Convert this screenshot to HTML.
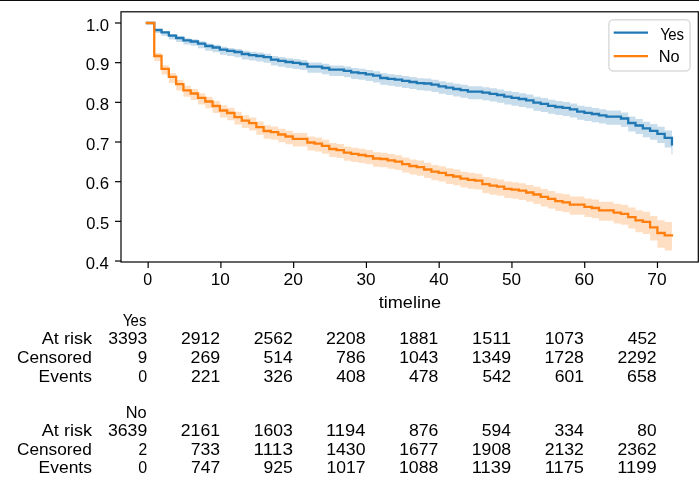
<!DOCTYPE html><html><head><meta charset="utf-8"><style>html,body{margin:0;padding:0;background:#fff;overflow:hidden}svg{display:block;will-change:transform}</style></head><body><svg width="699" height="502" viewBox="0 0 699 502">
<rect width="699" height="502" fill="#fff"/>
<rect x="0" y="0" width="699" height="1" fill="#0b0c10"/>
<path d="M146.95,23.80 L154.24,23.80 L154.24,29.07 L161.53,29.07 L161.53,31.06 L168.83,31.06 L168.83,34.08 L176.12,34.08 L176.12,36.14 L183.41,36.14 L183.41,38.23 L190.70,38.23 L190.70,39.31 L197.99,39.31 L197.99,41.31 L205.29,41.31 L205.29,43.42 L212.58,43.42 L212.58,44.79 L219.87,44.79 L219.87,46.82 L227.16,46.82 L227.16,47.92 L234.45,47.92 L234.45,48.93 L241.75,48.93 L241.75,50.77 L249.04,50.77 L249.04,51.78 L256.33,51.78 L256.33,52.61 L263.62,52.61 L263.62,53.73 L270.91,53.73 L270.91,56.07 L278.21,56.07 L278.21,57.10 L285.50,57.10 L285.50,58.23 L292.79,58.23 L292.79,59.07 L300.08,59.07 L300.08,60.10 L307.37,60.10 L307.37,62.55 L314.67,62.55 L314.67,62.55 L321.96,62.55 L321.96,63.87 L329.25,63.87 L329.25,65.47 L336.54,65.47 L336.54,65.47 L343.83,65.47 L343.83,66.60 L351.13,66.60 L351.13,68.02 L358.42,68.02 L358.42,68.77 L365.71,68.77 L365.71,69.90 L373.00,69.90 L373.00,71.13 L380.29,71.13 L380.29,73.30 L387.59,73.30 L387.59,74.15 L394.88,74.15 L394.88,74.91 L402.17,74.91 L402.17,76.04 L409.46,76.04 L409.46,77.08 L416.75,77.08 L416.75,78.22 L424.05,78.22 L424.05,78.51 L431.34,78.51 L431.34,79.64 L438.63,79.64 L438.63,81.25 L445.92,81.25 L445.92,82.38 L453.21,82.38 L453.21,83.71 L460.51,83.71 L460.51,84.84 L467.80,84.84 L467.80,86.16 L475.09,86.16 L475.09,86.17 L482.38,86.17 L482.38,87.21 L489.67,87.21 L489.67,88.34 L496.97,88.34 L496.97,89.38 L504.26,89.38 L504.26,90.98 L511.55,90.98 L511.55,92.02 L518.84,92.02 L518.84,93.21 L526.13,93.21 L526.13,94.58 L533.43,94.58 L533.43,96.81 L540.72,96.81 L540.72,98.00 L548.01,98.00 L548.01,99.85 L555.30,99.85 L555.30,101.04 L562.59,101.04 L562.59,101.95 L569.89,101.95 L569.89,103.43 L577.18,103.43 L577.18,105.65 L584.47,105.65 L584.47,106.75 L591.76,106.75 L591.76,107.94 L599.05,107.94 L599.05,109.31 L606.35,109.31 L606.35,110.50 L613.64,110.50 L613.64,110.57 L620.93,110.57 L620.93,112.39 L628.22,112.39 L628.22,116.58 L635.51,116.58 L635.51,118.94 L642.81,118.94 L642.81,121.66 L650.10,121.66 L650.10,124.00 L657.39,124.00 L657.39,126.77 L664.68,126.77 L664.68,130.48 L671.97,130.48 L671.97,136.53 L671.97,136.53 L671.97,154.38 L671.97,154.38 L671.97,147.41 L664.68,147.41 L664.68,143.10 L657.39,143.10 L657.39,139.87 L650.10,139.87 L650.10,137.20 L642.81,137.20 L642.81,134.11 L635.51,134.11 L635.51,131.47 L628.22,131.47 L628.22,126.66 L620.93,126.66 L620.93,124.68 L613.64,124.68 L613.64,124.76 L606.35,124.76 L606.35,123.55 L599.05,123.55 L599.05,122.13 L591.76,122.13 L591.76,120.92 L584.47,120.92 L584.47,119.83 L577.18,119.83 L577.18,117.46 L569.89,117.46 L569.89,115.94 L562.59,115.94 L562.59,115.06 L555.30,115.06 L555.30,113.86 L548.01,113.86 L548.01,111.92 L540.72,111.92 L540.72,110.72 L533.43,110.72 L533.43,108.35 L526.13,108.35 L526.13,106.94 L518.84,106.94 L518.84,105.74 L511.55,105.74 L511.55,104.57 L504.26,104.57 L504.26,102.77 L496.97,102.77 L496.97,101.61 L489.67,101.61 L489.67,100.34 L482.38,100.34 L482.38,99.18 L475.09,99.18 L475.09,99.19 L467.80,99.19 L467.80,97.71 L460.51,97.71 L460.51,96.45 L453.21,96.45 L453.21,94.97 L445.92,94.97 L445.92,93.70 L438.63,93.70 L438.63,91.91 L431.34,91.91 L431.34,90.65 L424.05,90.65 L424.05,90.33 L416.75,90.33 L416.75,89.07 L409.46,89.07 L409.46,87.91 L402.17,87.91 L402.17,86.64 L394.88,86.64 L394.88,85.80 L387.59,85.80 L387.59,84.86 L380.29,84.86 L380.29,82.43 L373.00,82.43 L373.00,81.05 L365.71,81.05 L365.71,79.79 L358.42,79.79 L358.42,78.94 L351.13,78.94 L351.13,77.36 L343.83,77.36 L343.83,76.09 L336.54,76.09 L336.54,76.09 L329.25,76.09 L329.25,74.30 L321.96,74.30 L321.96,72.81 L314.67,72.81 L314.67,72.82 L307.37,72.82 L307.37,70.06 L300.08,70.06 L300.08,68.90 L292.79,68.90 L292.79,67.94 L285.50,67.94 L285.50,66.67 L278.21,66.67 L278.21,65.51 L270.91,65.51 L270.91,62.85 L263.62,62.85 L263.62,61.57 L256.33,61.57 L256.33,60.59 L249.04,60.59 L249.04,59.40 L241.75,59.40 L241.75,57.24 L234.45,57.24 L234.45,56.05 L227.16,56.05 L227.16,54.75 L219.87,54.75 L219.87,52.37 L212.58,52.37 L212.58,50.74 L205.29,50.74 L205.29,48.25 L197.99,48.25 L197.99,45.85 L190.70,45.85 L190.70,44.53 L183.41,44.53 L183.41,42.01 L176.12,42.01 L176.12,39.48 L168.83,39.48 L168.83,35.70 L161.53,35.70 L161.53,33.10 L154.24,33.10 L154.24,23.80 L146.95,23.80Z" fill="#1f77b4" fill-opacity="0.25"/>
<path d="M146.95,23.80 L154.24,23.80 L154.24,52.96 L161.53,52.96 L161.53,65.14 L168.83,65.14 L168.83,72.90 L176.12,72.90 L176.12,79.92 L183.41,79.92 L183.41,85.80 L190.70,85.80 L190.70,88.90 L197.99,88.90 L197.99,93.16 L205.29,93.16 L205.29,96.65 L212.58,96.65 L212.58,101.00 L219.87,101.00 L219.87,105.35 L227.16,105.35 L227.16,107.78 L234.45,107.78 L234.45,111.85 L241.75,111.85 L241.75,115.16 L249.04,115.16 L249.04,117.60 L256.33,117.60 L256.33,121.58 L263.62,121.58 L263.62,125.28 L270.91,125.28 L270.91,126.46 L278.21,126.46 L278.21,128.71 L285.50,128.71 L285.50,130.67 L292.79,130.67 L292.79,132.91 L300.08,132.91 L300.08,132.94 L307.37,132.94 L307.37,136.53 L314.67,136.53 L314.67,137.62 L321.96,137.62 L321.96,139.86 L329.25,139.86 L329.25,142.88 L336.54,142.88 L336.54,143.97 L343.83,143.97 L343.83,146.51 L351.13,146.51 L351.13,147.69 L358.42,147.69 L358.42,148.77 L365.71,148.77 L365.71,149.95 L373.00,149.95 L373.00,152.18 L380.29,152.18 L380.29,152.68 L387.59,152.68 L387.59,154.04 L394.88,154.04 L394.88,155.30 L402.17,155.30 L402.17,157.62 L409.46,157.62 L409.46,159.46 L416.75,159.46 L416.75,160.62 L424.05,160.62 L424.05,162.84 L431.34,162.84 L431.34,164.97 L438.63,164.97 L438.63,166.13 L445.92,166.13 L445.92,168.35 L453.21,168.35 L453.21,169.61 L460.51,169.61 L460.51,171.63 L467.80,171.63 L467.80,172.79 L475.09,172.79 L475.09,173.67 L482.38,173.67 L482.38,177.02 L489.67,177.02 L489.67,178.36 L496.97,178.36 L496.97,179.43 L504.26,179.43 L504.26,181.43 L511.55,181.43 L511.55,182.21 L518.84,182.21 L518.84,183.26 L526.13,183.26 L526.13,184.98 L533.43,184.98 L533.43,186.87 L540.72,186.87 L540.72,189.05 L548.01,189.05 L548.01,191.03 L555.30,191.03 L555.30,193.20 L562.59,193.20 L562.59,194.24 L569.89,194.24 L569.89,196.40 L577.18,196.40 L577.18,196.41 L584.47,196.41 L584.47,198.54 L591.76,198.54 L591.76,199.56 L599.05,199.56 L599.05,201.65 L606.35,201.65 L606.35,201.67 L613.64,201.67 L613.64,203.80 L620.93,203.80 L620.93,204.78 L628.22,204.78 L628.22,207.61 L635.51,207.61 L635.51,210.32 L642.81,210.32 L642.81,211.65 L650.10,211.65 L650.10,215.90 L657.39,215.90 L657.39,220.21 L664.68,220.21 L664.68,222.12 L671.97,222.12 L671.97,222.15 L671.97,222.15 L671.97,250.58 L671.97,250.58 L671.97,250.61 L664.68,250.61 L664.68,247.73 L657.39,247.73 L657.39,240.60 L650.10,240.60 L650.10,234.03 L642.81,234.03 L642.81,232.15 L635.51,232.15 L635.51,228.45 L628.22,228.45 L628.22,224.67 L620.93,224.67 L620.93,223.45 L613.64,223.45 L613.64,220.78 L606.35,220.78 L606.35,220.80 L599.05,220.80 L599.05,218.29 L591.76,218.29 L591.76,217.11 L584.47,217.11 L584.47,214.63 L577.18,214.63 L577.18,214.65 L569.89,214.65 L569.89,212.20 L562.59,212.20 L562.59,211.05 L555.30,211.05 L555.30,208.61 L548.01,208.61 L548.01,206.40 L540.72,206.40 L540.72,203.98 L533.43,203.98 L533.43,201.87 L526.13,201.87 L526.13,199.99 L518.84,199.99 L518.84,198.84 L511.55,198.84 L511.55,198.02 L504.26,198.02 L504.26,195.83 L496.97,195.83 L496.97,194.69 L489.67,194.69 L489.67,193.24 L482.38,193.24 L482.38,189.59 L475.09,189.59 L475.09,188.67 L467.80,188.67 L467.80,187.43 L460.51,187.43 L460.51,185.25 L453.21,185.25 L453.21,183.91 L445.92,183.91 L445.92,181.53 L438.63,181.53 L438.63,180.30 L431.34,180.30 L431.34,178.02 L424.05,178.02 L424.05,175.65 L416.75,175.65 L416.75,174.41 L409.46,174.41 L409.46,172.45 L402.17,172.45 L402.17,169.98 L394.88,169.98 L394.88,168.64 L387.59,168.64 L387.59,167.20 L380.29,167.20 L380.29,166.70 L373.00,166.70 L373.00,164.33 L365.71,164.33 L365.71,163.11 L358.42,163.11 L358.42,162.00 L351.13,162.00 L351.13,160.79 L343.83,160.79 L343.83,158.12 L336.54,158.12 L336.54,157.01 L329.25,157.01 L329.25,153.84 L321.96,153.84 L321.96,151.49 L314.67,151.49 L314.67,150.38 L307.37,150.38 L307.37,146.58 L300.08,146.58 L300.08,146.60 L292.79,146.60 L292.79,144.25 L285.50,144.25 L285.50,142.21 L278.21,142.21 L278.21,139.86 L270.91,139.86 L270.91,138.65 L263.62,138.65 L263.62,134.76 L256.33,134.76 L256.33,130.55 L249.04,130.55 L249.04,127.99 L241.75,127.99 L241.75,124.50 L234.45,124.50 L234.45,120.18 L227.16,120.18 L227.16,117.61 L219.87,117.61 L219.87,112.97 L212.58,112.97 L212.58,108.33 L205.29,108.33 L205.29,104.62 L197.99,104.62 L197.99,100.09 L190.70,100.09 L190.70,96.80 L183.41,96.80 L183.41,90.49 L176.12,90.49 L176.12,82.93 L168.83,82.93 L168.83,74.51 L161.53,74.51 L161.53,61.12 L154.24,61.12 L154.24,23.80 L146.95,23.80Z" fill="#ff7f0e" fill-opacity="0.25"/>
<rect x="671.37" y="136.53" width="1.2" height="17.85" fill="#1f77b4" fill-opacity="0.25"/>
<path d="M146.95,23.00 L154.24,23.00 L154.24,30.00 L161.53,30.00 L161.53,32.30 L168.83,32.30 L168.83,35.70 L176.12,35.70 L176.12,38.00 L183.41,38.00 L183.41,40.30 L190.70,40.30 L190.70,41.50 L197.99,41.50 L197.99,43.70 L205.29,43.70 L205.29,46.00 L212.58,46.00 L212.58,47.50 L219.87,47.50 L219.87,49.70 L227.16,49.70 L227.16,50.90 L234.45,50.90 L234.45,52.00 L241.75,52.00 L241.75,54.00 L249.04,54.00 L249.04,55.10 L256.33,55.10 L256.33,56.00 L263.62,56.00 L263.62,57.20 L270.91,57.20 L270.91,59.70 L278.21,59.70 L278.21,60.80 L285.50,60.80 L285.50,62.00 L292.79,62.00 L292.79,62.90 L300.08,62.90 L300.08,64.00 L307.37,64.00 L307.37,66.60 L314.67,66.60 L314.67,66.60 L321.96,66.60 L321.96,68.00 L329.25,68.00 L329.25,69.70 L336.54,69.70 L336.54,69.70 L343.83,69.70 L343.83,70.90 L351.13,70.90 L351.13,72.40 L358.42,72.40 L358.42,73.20 L365.71,73.20 L365.71,74.40 L373.00,74.40 L373.00,75.70 L380.29,75.70 L380.29,78.00 L387.59,78.00 L387.59,78.90 L394.88,78.90 L394.88,79.70 L402.17,79.70 L402.17,80.90 L409.46,80.90 L409.46,82.00 L416.75,82.00 L416.75,83.20 L424.05,83.20 L424.05,83.50 L431.34,83.50 L431.34,84.70 L438.63,84.70 L438.63,86.40 L445.92,86.40 L445.92,87.60 L453.21,87.60 L453.21,89.00 L460.51,89.00 L460.51,90.20 L467.80,90.20 L467.80,91.60 L475.09,91.60 L475.09,91.60 L482.38,91.60 L482.38,92.70 L489.67,92.70 L489.67,93.90 L496.97,93.90 L496.97,95.00 L504.26,95.00 L504.26,96.70 L511.55,96.70 L511.55,97.80 L518.84,97.80 L518.84,99.00 L526.13,99.00 L526.13,100.40 L533.43,100.40 L533.43,102.70 L540.72,102.70 L540.72,103.90 L548.01,103.90 L548.01,105.80 L555.30,105.80 L555.30,107.00 L562.59,107.00 L562.59,107.90 L569.89,107.90 L569.89,109.40 L577.18,109.40 L577.18,111.70 L584.47,111.70 L584.47,112.80 L591.76,112.80 L591.76,114.00 L599.05,114.00 L599.05,115.40 L606.35,115.40 L606.35,116.60 L613.64,116.60 L613.64,116.60 L620.93,116.60 L620.93,118.50 L628.22,118.50 L628.22,123.00 L635.51,123.00 L635.51,125.50 L642.81,125.50 L642.81,128.40 L650.10,128.40 L650.10,130.90 L657.39,130.90 L657.39,133.90 L664.68,133.90 L664.68,137.90 L671.97,137.90 L671.97,144.40" fill="none" stroke="#1f77b4" stroke-width="2.3" stroke-linejoin="miter" stroke-linecap="square"/>
<path d="M146.95,23.00 L154.24,23.00 L154.24,56.00 L161.53,56.00 L161.53,68.80 L168.83,68.80 L168.83,76.90 L176.12,76.90 L176.12,84.20 L183.41,84.20 L183.41,90.30 L190.70,90.30 L190.70,93.50 L197.99,93.50 L197.99,97.90 L205.29,97.90 L205.29,101.50 L212.58,101.50 L212.58,106.00 L219.87,106.00 L219.87,110.50 L227.16,110.50 L227.16,113.00 L234.45,113.00 L234.45,117.20 L241.75,117.20 L241.75,120.60 L249.04,120.60 L249.04,123.10 L256.33,123.10 L256.33,127.20 L263.62,127.20 L263.62,131.00 L270.91,131.00 L270.91,132.20 L278.21,132.20 L278.21,134.50 L285.50,134.50 L285.50,136.50 L292.79,136.50 L292.79,138.80 L300.08,138.80 L300.08,138.80 L307.37,138.80 L307.37,142.50 L314.67,142.50 L314.67,143.60 L321.96,143.60 L321.96,145.90 L329.25,145.90 L329.25,149.00 L336.54,149.00 L336.54,150.10 L343.83,150.10 L343.83,152.70 L351.13,152.70 L351.13,153.90 L358.42,153.90 L358.42,155.00 L365.71,155.00 L365.71,156.20 L373.00,156.20 L373.00,158.50 L380.29,158.50 L380.29,159.00 L387.59,159.00 L387.59,160.40 L394.88,160.40 L394.88,161.70 L402.17,161.70 L402.17,164.10 L409.46,164.10 L409.46,166.00 L416.75,166.00 L416.75,167.20 L424.05,167.20 L424.05,169.50 L431.34,169.50 L431.34,171.70 L438.63,171.70 L438.63,172.90 L445.92,172.90 L445.92,175.20 L453.21,175.20 L453.21,176.50 L460.51,176.50 L460.51,178.60 L467.80,178.60 L467.80,179.80 L475.09,179.80 L475.09,180.70 L482.38,180.70 L482.38,184.20 L489.67,184.20 L489.67,185.60 L496.97,185.60 L496.97,186.70 L504.26,186.70 L504.26,188.80 L511.55,188.80 L511.55,189.60 L518.84,189.60 L518.84,190.70 L526.13,190.70 L526.13,192.50 L533.43,192.50 L533.43,194.50 L540.72,194.50 L540.72,196.80 L548.01,196.80 L548.01,198.90 L555.30,198.90 L555.30,201.20 L562.59,201.20 L562.59,202.30 L569.89,202.30 L569.89,204.60 L577.18,204.60 L577.18,204.60 L584.47,204.60 L584.47,206.90 L591.76,206.90 L591.76,208.00 L599.05,208.00 L599.05,210.30 L606.35,210.30 L606.35,210.30 L613.64,210.30 L613.64,212.70 L620.93,212.70 L620.93,213.80 L628.22,213.80 L628.22,217.10 L635.51,217.10 L635.51,220.30 L642.81,220.30 L642.81,221.90 L650.10,221.90 L650.10,227.30 L657.39,227.30 L657.39,233.00 L664.68,233.00 L664.68,235.40 L671.97,235.40 L671.97,235.40" fill="none" stroke="#ff7f0e" stroke-width="2.3" stroke-linejoin="miter" stroke-linecap="square"/>
<rect x="121.0" y="11.8" width="577.3" height="250.2" fill="none" stroke="#000" stroke-width="1.2"/>
<line x1="148.15" y1="262.0" x2="148.15" y2="268.0" stroke="#000" stroke-width="1.2"/>
<line x1="220.91" y1="262.0" x2="220.91" y2="268.0" stroke="#000" stroke-width="1.2"/>
<line x1="293.67" y1="262.0" x2="293.67" y2="268.0" stroke="#000" stroke-width="1.2"/>
<line x1="366.43" y1="262.0" x2="366.43" y2="268.0" stroke="#000" stroke-width="1.2"/>
<line x1="439.19" y1="262.0" x2="439.19" y2="268.0" stroke="#000" stroke-width="1.2"/>
<line x1="511.95" y1="262.0" x2="511.95" y2="268.0" stroke="#000" stroke-width="1.2"/>
<line x1="584.71" y1="262.0" x2="584.71" y2="268.0" stroke="#000" stroke-width="1.2"/>
<line x1="657.47" y1="262.0" x2="657.47" y2="268.0" stroke="#000" stroke-width="1.2"/>
<line x1="115.0" y1="23.00" x2="121.0" y2="23.00" stroke="#000" stroke-width="1.2"/>
<line x1="115.0" y1="62.67" x2="121.0" y2="62.67" stroke="#000" stroke-width="1.2"/>
<line x1="115.0" y1="102.34" x2="121.0" y2="102.34" stroke="#000" stroke-width="1.2"/>
<line x1="115.0" y1="142.01" x2="121.0" y2="142.01" stroke="#000" stroke-width="1.2"/>
<line x1="115.0" y1="181.68" x2="121.0" y2="181.68" stroke="#000" stroke-width="1.2"/>
<line x1="115.0" y1="221.35" x2="121.0" y2="221.35" stroke="#000" stroke-width="1.2"/>
<line x1="115.0" y1="261.02" x2="121.0" y2="261.02" stroke="#000" stroke-width="1.2"/>
<rect x="608.9" y="19.7" width="81.2" height="51.4" rx="4.5" fill="#fff" fill-opacity="0.8" stroke="#cccccc" stroke-opacity="0.7" stroke-width="1.5"/>
<line x1="613.7" y1="32.7" x2="648.0" y2="32.7" stroke="#1f77b4" stroke-width="2.2"/>
<line x1="613.7" y1="56.1" x2="648.0" y2="56.1" stroke="#ff7f0e" stroke-width="2.2"/>
<g font-family="Liberation Sans, sans-serif" fill="#000">
<text transform="translate(85.95,30.60) scale(1.0413,1)" font-size="16.0">1.0</text>
<text transform="translate(85.85,70.27) scale(1.0580,1)" font-size="16.0">0.9</text>
<text transform="translate(85.83,109.94) scale(1.0470,1)" font-size="16.0">0.8</text>
<text transform="translate(86.09,149.61) scale(1.0470,1)" font-size="16.0">0.7</text>
<text transform="translate(85.74,189.28) scale(1.0509,1)" font-size="16.0">0.6</text>
<text transform="translate(86.13,228.95) scale(1.0333,1)" font-size="16.0">0.5</text>
<text transform="translate(85.64,268.62) scale(1.0435,1)" font-size="16.0">0.4</text>
<text transform="translate(143.25,285.10) scale(1.0010,1)" font-size="16.0">0</text>
<text transform="translate(210.73,285.10) scale(1.0720,1)" font-size="16.0">10</text>
<text transform="translate(283.45,285.10) scale(1.0910,1)" font-size="16.0">20</text>
<text transform="translate(356.52,285.10) scale(1.0720,1)" font-size="16.0">30</text>
<text transform="translate(429.32,285.10) scale(1.0817,1)" font-size="16.0">40</text>
<text transform="translate(502.04,285.10) scale(1.0710,1)" font-size="16.0">50</text>
<text transform="translate(574.46,285.10) scale(1.0943,1)" font-size="16.0">60</text>
<text transform="translate(647.33,285.10) scale(1.0826,1)" font-size="16.0">70</text>
<text transform="translate(378.68,308.00) scale(1.1333,1)" font-size="16.0">timeline</text>
<text transform="translate(660.37,39.50) scale(0.9355,1)" font-size="16.0">Y<tspan dx="-2.2">es</tspan></text>
<text transform="translate(658.72,62.40) scale(1.0230,1)" font-size="16.0">No</text>
<text transform="translate(122.67,325.70) scale(0.9355,1)" font-size="16.0">Y<tspan dx="-2.2">es</tspan></text>
<text transform="translate(125.79,418.00) scale(1.0230,1)" font-size="16.0">No</text>
<text transform="translate(108.14,344.00) scale(1.1003,1)" font-size="16.0">3393</text>
<text transform="translate(137.86,362.50) scale(1.0656,1)" font-size="16.0">9</text>
<text transform="translate(138.14,381.50) scale(1.0010,1)" font-size="16.0">0</text>
<text transform="translate(107.98,436.20) scale(1.1048,1)" font-size="16.0">3639</text>
<text transform="translate(138.56,454.50) scale(0.9808,1)" font-size="16.0">2</text>
<text transform="translate(138.14,473.30) scale(1.0010,1)" font-size="16.0">0</text>
<text transform="translate(180.90,344.00) scale(1.1004,1)" font-size="16.0">2912</text>
<text transform="translate(190.53,362.50) scale(1.1109,1)" font-size="16.0">269</text>
<text transform="translate(190.89,381.50) scale(1.0971,1)" font-size="16.0">221</text>
<text transform="translate(180.77,436.20) scale(1.1040,1)" font-size="16.0">2161</text>
<text transform="translate(190.83,454.50) scale(1.0992,1)" font-size="16.0">733</text>
<text transform="translate(190.92,473.30) scale(1.0958,1)" font-size="16.0">747</text>
<text transform="translate(253.66,344.00) scale(1.1004,1)" font-size="16.0">2562</text>
<text transform="translate(263.41,362.50) scale(1.0957,1)" font-size="16.0">514</text>
<text transform="translate(263.50,381.50) scale(1.1027,1)" font-size="16.0">326</text>
<text transform="translate(253.65,436.20) scale(1.1007,1)" font-size="16.0">1603</text>
<text transform="translate(253.56,454.50) scale(1.1880,1)" font-size="16.0">1113</text>
<text transform="translate(263.41,473.30) scale(1.0957,1)" font-size="16.0">925</text>
<text transform="translate(325.90,344.00) scale(1.1151,1)" font-size="16.0">2208</text>
<text transform="translate(336.07,362.50) scale(1.1100,1)" font-size="16.0">786</text>
<text transform="translate(336.18,381.50) scale(1.1056,1)" font-size="16.0">408</text>
<text transform="translate(325.98,436.20) scale(1.1456,1)" font-size="16.0">1194</text>
<text transform="translate(326.18,454.50) scale(1.1071,1)" font-size="16.0">1430</text>
<text transform="translate(326.49,473.30) scale(1.0982,1)" font-size="16.0">1017</text>
<text transform="translate(399.37,344.00) scale(1.0950,1)" font-size="16.0">1881</text>
<text transform="translate(399.17,362.50) scale(1.1007,1)" font-size="16.0">1043</text>
<text transform="translate(408.94,381.50) scale(1.1056,1)" font-size="16.0">478</text>
<text transform="translate(408.88,436.20) scale(1.1079,1)" font-size="16.0">876</text>
<text transform="translate(399.25,454.50) scale(1.0982,1)" font-size="16.0">1677</text>
<text transform="translate(398.97,473.30) scale(1.1062,1)" font-size="16.0">1088</text>
<text transform="translate(472.08,344.00) scale(1.1368,1)" font-size="16.0">1511</text>
<text transform="translate(471.77,362.50) scale(1.1053,1)" font-size="16.0">1349</text>
<text transform="translate(482.40,381.50) scale(1.0790,1)" font-size="16.0">542</text>
<text transform="translate(481.69,436.20) scale(1.0957,1)" font-size="16.0">594</text>
<text transform="translate(471.73,454.50) scale(1.1062,1)" font-size="16.0">1908</text>
<text transform="translate(471.72,473.30) scale(1.1474,1)" font-size="16.0">1139</text>
<text transform="translate(544.69,344.00) scale(1.1007,1)" font-size="16.0">1073</text>
<text transform="translate(544.49,362.50) scale(1.1062,1)" font-size="16.0">1728</text>
<text transform="translate(554.63,381.50) scale(1.0992,1)" font-size="16.0">601</text>
<text transform="translate(554.43,436.20) scale(1.0963,1)" font-size="16.0">334</text>
<text transform="translate(544.70,454.50) scale(1.1004,1)" font-size="16.0">2132</text>
<text transform="translate(544.76,473.30) scale(1.1391,1)" font-size="16.0">1175</text>
<text transform="translate(627.73,344.00) scale(1.0860,1)" font-size="16.0">452</text>
<text transform="translate(617.46,362.50) scale(1.1004,1)" font-size="16.0">2292</text>
<text transform="translate(627.00,381.50) scale(1.1143,1)" font-size="16.0">658</text>
<text transform="translate(637.34,436.20) scale(1.0798,1)" font-size="16.0">80</text>
<text transform="translate(617.46,454.50) scale(1.1004,1)" font-size="16.0">2362</text>
<text transform="translate(617.24,473.30) scale(1.1474,1)" font-size="16.0">1199</text>
<text transform="translate(41.74,344.00) scale(1.1329,1)" font-size="16.0">At risk</text>
<text transform="translate(17.00,362.50) scale(1.0776,1)" font-size="16.0">Censored</text>
<text transform="translate(38.62,381.50) scale(1.0893,1)" font-size="16.0">Events</text>
<text transform="translate(41.74,436.20) scale(1.1329,1)" font-size="16.0">At risk</text>
<text transform="translate(17.00,454.50) scale(1.0776,1)" font-size="16.0">Censored</text>
<text transform="translate(38.62,473.30) scale(1.0893,1)" font-size="16.0">Events</text>
</g>
</svg></body></html>
